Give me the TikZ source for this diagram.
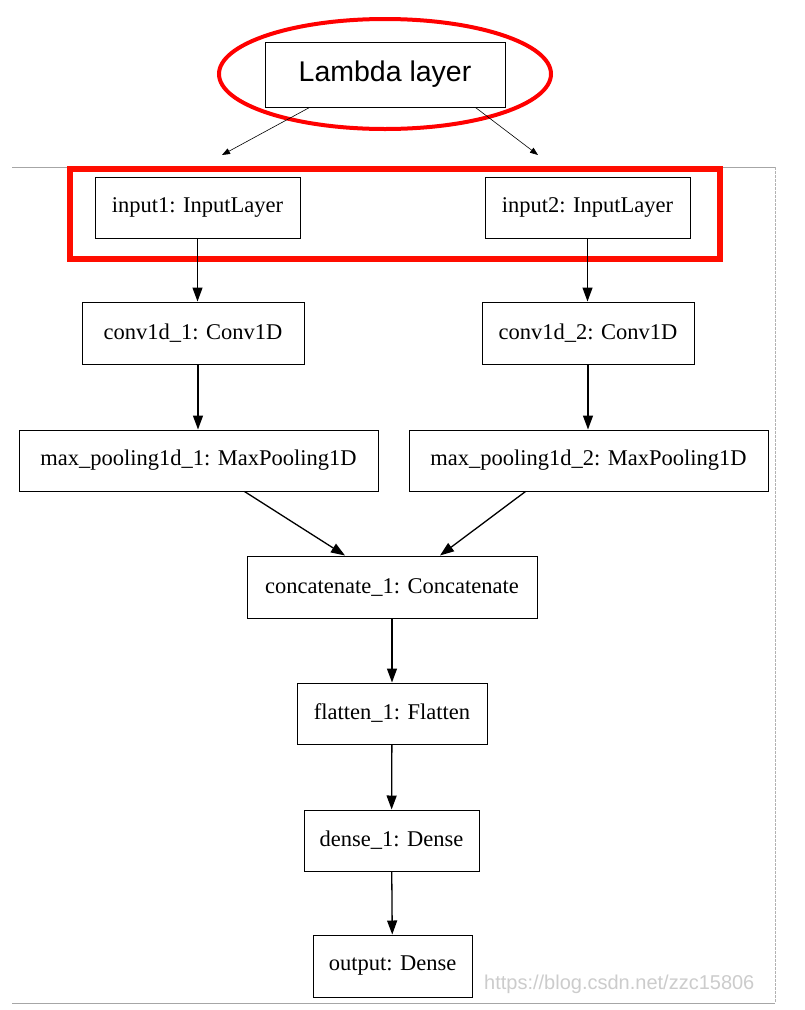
\documentclass[tikz,border=0pt]{standalone}
\usepackage{fontspec}
\setmainfont{Liberation Serif}
\newfontfamily\lsans{Liberation Sans}
\usetikzlibrary{arrows.meta}
\begin{document}
\begin{tikzpicture}[x=1pt,y=-1pt,
 lay/.style={draw,line width=1pt,inner sep=0pt,font=\fontsize{22.5}{26}\selectfont},
 arr/.style={-{Triangle[length=14pt,width=10pt]},line width=1.3pt},
 thin arr/.style={-{Triangle[length=8pt,width=6pt]},line width=0.6pt}]
\useasboundingbox (0,0) rectangle (804,1010);
\fill[white] (0,0) rectangle (804,1010);
\draw[gray!70,line width=0.8pt] (12,167) coordinate (tl) -- (775,167) coordinate (tr);
\draw[gray!60,line width=0.8pt,dash pattern=on 3pt off 1pt] (tr) -- (775,1003) coordinate (br);
\draw[gray!70,line width=0.8pt] (12,1003) -- (br);
\node[lay,minimum width=240pt,minimum height=65pt,font=\lsans\fontsize{28.5}{32}\selectfont] (lam) at (385,74.5) {Lambda layer};
\draw[red,line width=4pt] (385,74) ellipse (166pt and 55pt);
\coordinate (la) at (222,155); \coordinate (lb) at (538,155);
\draw[thin arr] (lam.south west)++(45,0) -- (la);
\draw[thin arr] (lam.south east)++(-30,0) -- (lb);
\node[lay,minimum width=205pt,minimum height=61pt] (i1) at (197.5,207.5) {input1: InputLayer};
\node[lay,minimum width=205pt,minimum height=61pt] (i2) at (587.5,207.5) {input2: InputLayer};
\draw[red!90!orange,line width=6pt] (70,169) rectangle (720,259);
\node[lay,minimum width=222pt,minimum height=62pt] (c1) at (193,333) {conv1d\_1: Conv1D};
\node[lay,minimum width=212pt,minimum height=62pt] (c2) at (588,333) {conv1d\_2: Conv1D};
\node[lay,minimum width=359pt,minimum height=61pt] (m1) at (198.5,460.5) {max\_pooling1d\_1: MaxPooling1D};
\node[lay,minimum width=359pt,minimum height=61pt] (m2) at (588.5,460.5) {max\_pooling1d\_2: MaxPooling1D};
\node[lay,minimum width=290pt,minimum height=62pt] (cc) at (392,587) {concatenate\_1: Concatenate};
\node[lay,minimum width=190pt,minimum height=61pt] (fl) at (392,713.5) {flatten\_1: Flatten};
\node[lay,minimum width=175pt,minimum height=61pt] (d1) at (391.5,840.5) {dense\_1: Dense};
\node[lay,minimum width=159pt,minimum height=62pt] (out) at (392.5,966) {output: Dense};
\draw[arr] (i1.south) -- (i1.south |- c1.north);
\draw[arr] (i2.south) -- (i2.south |- c2.north);
\draw[arr] ([xshift=5pt]c1.south) -- ([xshift=5pt]c1.south |- m1.north);
\draw[arr] (c2.south) -- (c2.south |- m2.north);
\draw[arr] (m1.south)++(46,0) -- ([xshift=-47pt]cc.north);
\draw[arr] (m2.south)++(-63,0) -- ([xshift=48pt]cc.north);
\draw[arr] (cc) -- (fl);
\draw[arr] (fl) -- (d1);
\draw[arr] (d1) -- (out);
\node[anchor=west,text=gray!40,font=\lsans\fontsize{20}{24}\selectfont,inner sep=0pt] (wm) at (484,984) {https://blog.csdn.net/zzc15806};
\end{tikzpicture}
\end{document}
